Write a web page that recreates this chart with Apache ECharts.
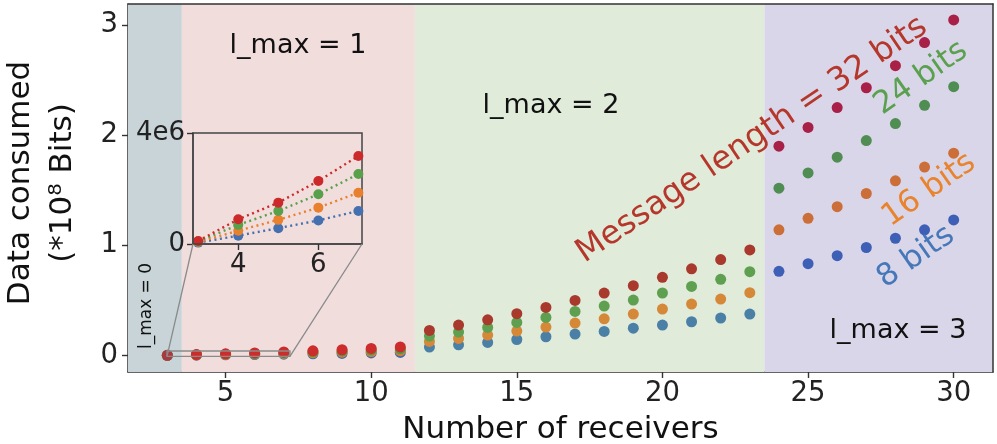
<!DOCTYPE html>
<html><head><meta charset="utf-8">
<script src="https://cdn.jsdelivr.net/npm/echarts@6/dist/echarts.min.js"></script>
<style>html,body{margin:0;padding:0;background:#fff}#c{width:997px;height:444px}</style>
</head><body><div id="c"></div>
<script>
// ---- data (values in units of 1e8 bits) ----
const receivers = [3,4,5,6,7,8,9,10,11,12,13,14,15,16,17,18,19,20,21,22,23,24,25,26,27,28,29,30];
const bits8  = [0.0005,0.0030,0.0057,0.0085,0.0119,0.0155,0.019,0.023,0.028,0.076,0.097,0.118,0.145,0.170,0.194,0.218,0.248,0.276,0.306,0.340,0.376,0.764,0.833,0.906,0.980,1.064,1.140,1.230];
const bits16 = [0.0007,0.0048,0.0087,0.0131,0.0185,0.024,0.030,0.036,0.044,0.127,0.155,0.185,0.221,0.258,0.294,0.333,0.376,0.421,0.467,0.512,0.570,1.140,1.245,1.350,1.470,1.585,1.710,1.836];
const bits24 = [0.0009,0.0069,0.0119,0.0179,0.0252,0.033,0.041,0.050,0.061,0.176,0.212,0.255,0.300,0.345,0.400,0.448,0.503,0.567,0.627,0.691,0.761,1.518,1.657,1.800,1.950,2.105,2.270,2.440];
const bits32 = [0.0011,0.0089,0.0149,0.0227,0.0317,0.042,0.052,0.064,0.078,0.227,0.276,0.324,0.379,0.436,0.500,0.566,0.633,0.709,0.786,0.870,0.958,1.900,2.070,2.250,2.430,2.630,2.840,3.045];
const seriesNames = ['8 bits','16 bits','24 bits','32 bits'];
const seriesData = [bits8, bits16, bits24, bits32];
const xTicks = [5,10,15,20,25,30];
const yTicks = [0,1,2,3];
const insetXTicks = [4,6];
const insetYTicks = [0,4e6];
const insetReceiverCount = 5;            // receivers 3..7 in the zoomed inset
const regionEdges = [3.5, 11.5, 23.5];   // l_max bands boundaries
const regionLabels = ['l_max = 0','l_max = 1','l_max = 2','l_max = 3'];

// ---- styles ----
const FONT = 'DejaVu Sans';
const xRange = [1.65, 31.35];
const yRange = [-0.15, 3.19];
const insetX = [2.87, 7.09];
const insetY = [0, 4e6];
const regionFill = ['#c9d4d9','#f2dddd','#e0ebda','#dad6ea'];
const pointColors = [
  ['#3f68a8','#3d6fae','#4a7fa6','#3e5fb6'],
  ['#d87a34','#e07d2e','#d58837','#cc6e38'],
  ['#4d8e4e','#4f9a48','#5ea050','#4f8d52'],
  ['#a8393f','#cc2c2c','#a8392c','#a82048']
];
const insetColors = ['#4470b0','#e8802e','#58a04a','#cc2a2a'];
function region(x){ let r=0; for(const e of regionEdges){ if(x>e) r++; } return r; }

const bandEdges = [xRange[0]].concat(regionEdges, [xRange[1]]);
const bands = regionFill.map((c,i)=>[{xAxis: bandEdges[i], itemStyle:{color:c}},{xAxis: bandEdges[i+1]}]);

const mainSeries = seriesData.map((arr,si)=>({
  type:'scatter', name: seriesNames[si], xAxisIndex:0, yAxisIndex:0,
  data: receivers.map((x,i)=>[x,arr[i]]),
  symbolSize: 11, z: 3,
  itemStyle:{ color: p => pointColors[si][region(p.data[0])], opacity:1 },
  silent:true,
  markArea: si===0 ? {silent:true, data: bands} : undefined
}));
const insetSeries = seriesData.map((arr,si)=>({
  type:'line', name: seriesNames[si]+' inset', xAxisIndex:2, yAxisIndex:2,
  data: receivers.slice(0,insetReceiverCount).map((x,i)=>[x, arr[i]*1e8]),
  symbol:'circle', symbolSize: 10, showSymbol:true, z:5,
  lineStyle:{type:[2,3.5], width:2.4, color: insetColors[si]},
  itemStyle:{color: insetColors[si]},
  clip:false, silent:true
}));

const tickFont = {fontFamily:FONT, fontSize:27.5, color:'#222'};
const insetFont = {fontFamily:FONT, fontSize:26, color:'#222'};
const chart = echarts.init(document.getElementById('c'), null, {renderer:'canvas'});
chart.setOption({
  animation:false,
  grid:[
    {left:128, right:4, top:4, bottom:72, containLabel:false, outerBoundsMode:'none'},
    {left:193, top:133, width:169, height:111, show:true, borderColor:'#444', borderWidth:1.5, backgroundColor:'transparent', z:4, outerBoundsMode:'none'}
  ],
  xAxis:[
    {type:'value', gridIndex:0, min:xRange[0], max:xRange[1],
     name:'Number of receivers', nameLocation:'middle', nameGap:42,
     nameTextStyle:{fontFamily:FONT, fontSize:31, color:'#111'},
     axisLine:{show:true, onZero:false, lineStyle:{color:'#333', width:1.5}},
     axisTick:{show:true, customValues:xTicks, length:6, lineStyle:{color:'#333', width:1.4}},
     axisLabel:{customValues:xTicks, margin:8, ...tickFont},
     splitLine:{show:false}},
    {type:'value', gridIndex:0, position:'top', min:xRange[0], max:xRange[1], z:10,
     axisLine:{show:true, onZero:false, lineStyle:{color:'#333', width:1.5}},
     axisTick:{show:false}, axisLabel:{show:false}, splitLine:{show:false}},
    {type:'value', gridIndex:1, min:insetX[0], max:insetX[1], z:10,
     axisLine:{show:true, onZero:false, lineStyle:{color:'#444', width:1.5}},
     axisTick:{show:true, customValues:insetXTicks, length:6, lineStyle:{color:'#333', width:1.4}},
     axisLabel:{customValues:insetXTicks, margin:8, ...insetFont},
     splitLine:{show:false}}
  ],
  yAxis:[
    {type:'value', gridIndex:0, min:yRange[0], max:yRange[1],
     name:'Data consumed\n(*10⁸ Bits)', nameLocation:'middle', nameGap:44, nameRotate:90,
     nameTextStyle:{fontFamily:FONT, fontSize:31, color:'#111', lineHeight:42, align:'center', padding:[0,0,0,10]},
     axisLine:{show:true, onZero:false, lineStyle:{color:'#333', width:1.5}},
     axisTick:{show:true, customValues:yTicks, length:6, lineStyle:{color:'#333', width:1.4}},
     axisLabel:{customValues:yTicks, margin:10, ...tickFont},
     splitLine:{show:false}},
    {type:'value', gridIndex:0, position:'right', min:yRange[0], max:yRange[1], z:10,
     axisLine:{show:true, onZero:false, lineStyle:{color:'#333', width:1.5}},
     axisTick:{show:false}, axisLabel:{show:false}, splitLine:{show:false}},
    {type:'value', gridIndex:1, min:insetY[0], max:insetY[1], z:10,
     axisLine:{show:true, onZero:false, lineStyle:{color:'#444', width:1.5}},
     axisTick:{show:true, customValues:insetYTicks, length:6, lineStyle:{color:'#333', width:1.4}},
     axisLabel:{customValues:insetYTicks, margin:8, ...insetFont,
       formatter: v => v===0 ? '0' : (v/1e6)+'e6'},
     splitLine:{show:false}}
  ],
  series: mainSeries.concat(insetSeries)
});

// ---- annotations and inset indicator ----
const toMain = p => chart.convertToPixel({xAxisIndex:0, yAxisIndex:0}, p);
const toInset = p => chart.convertToPixel({xAxisIndex:2, yAxisIndex:2}, p);
const rTL = toMain([insetX[0]+0.12, insetY[1]/1e8]);
const rBR = toMain([insetX[1]+0.12, insetY[0]/1e8 - 0.008]);
const iBL = toInset([insetX[0], insetY[0]]);
const iBR = toInset([insetX[1], insetY[0]]);
const grey = '#8a8a8a';
const deg = Math.PI/180;
function txt(text, x, y, size, color, rot){
  return {type:'text', x:x, y:y, rotation:(rot||0)*deg, z:50, silent:true,
    style:{text:text, fontFamily:FONT, fontSize:size, fill:color, align:'center', verticalAlign:'middle'}};
}
chart.setOption({graphic:[
  {type:'rect', z:40, silent:true, shape:{x:rTL[0], y:rTL[1], width:rBR[0]-rTL[0], height:rBR[1]-rTL[1]},
   style:{fill:'none', stroke:grey, lineWidth:1.4}},
  {type:'line', z:40, silent:true, shape:{x1:rTL[0], y1:rBR[1], x2:iBL[0], y2:iBL[1]}, style:{stroke:grey, lineWidth:1.3}},
  {type:'line', z:40, silent:true, shape:{x1:rBR[0], y1:rBR[1], x2:iBR[0], y2:iBR[1]}, style:{stroke:grey, lineWidth:1.3}},
  txt(regionLabels[0], 147, 306, 17, '#111', 90),
  txt(regionLabels[1], 298, 46, 27, '#111'),
  txt(regionLabels[2], 551, 106, 27, '#111'),
  txt(regionLabels[3], 898, 331, 27, '#111'),
  txt('Message length = 32 bits', 752, 140, 32.5, '#b5372c', 34),
  txt(seriesNames[2], 921, 78, 31, '#5aa04e', 35),
  txt(seriesNames[1], 929, 190, 31, '#e8832e', 35),
  txt(seriesNames[0], 916, 257, 31, '#4677b8', 35)
]});
</script>
</body></html>
